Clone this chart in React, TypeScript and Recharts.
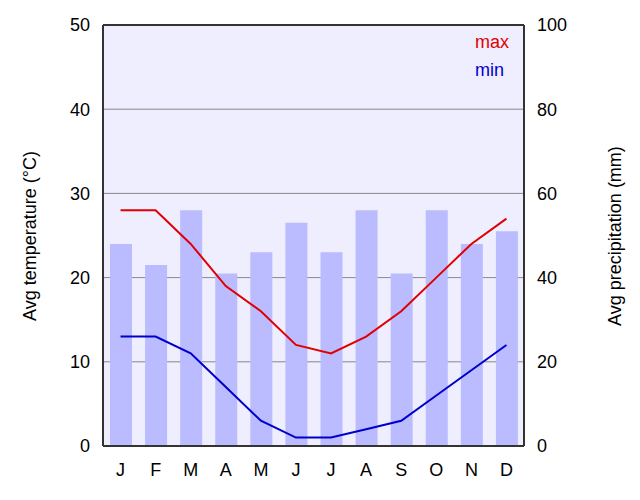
import { ComposedChart, Bar, Line, XAxis, YAxis, CartesianGrid, ReferenceLine } from 'recharts';

// Monthly climate values
const MONTHS = ['J', 'F', 'M', 'A', 'M', 'J', 'J', 'A', 'S', 'O', 'N', 'D'];
const TEMP_MAX = [28, 28, 24, 19, 16, 12, 11, 13, 16, 20, 24, 27];
const TEMP_MIN = [13, 13, 11, 7, 3, 1, 1, 2, 3, 6, 9, 12];
const PRECIP = [48, 43, 56, 41, 46, 53, 46, 56, 41, 56, 48, 51];
const TEMP_TICKS = [0, 10, 20, 30, 40, 50];
const PRECIP_TICKS = [0, 20, 40, 60, 80, 100];

const FONT = '"Liberation Sans", Arial, sans-serif';
const FRAME = '#333';
const MAX_COLOR = '#e00000';
const MIN_COLOR = '#0000cc';

const data = MONTHS.map((m, i) => ({
  month: m,
  max: TEMP_MAX[i],
  min: TEMP_MIN[i],
  precip: PRECIP[i],
}));

const tickStyle = { fill: '#000', fontSize: 18, fontFamily: FONT };

// rotated axis title at a fixed spot
function AxisTitle({ x, text }: { x: number; text: string }) {
  return (
    <text
      x={x}
      y={236}
      transform={`rotate(-90, ${x}, 236)`}
      textAnchor="middle"
      dominantBaseline="central"
      fontFamily={FONT}
      fontSize={18}
      fill="#000"
    >
      {text}
    </text>
  );
}

export default function App() {
  return (
    <div style={{ position: 'absolute', left: 0, top: 0, width: 640, height: 500 }}>
      <ComposedChart
        width={640}
        height={500}
        data={data}
        margin={{ top: 25, right: 56, bottom: 24, left: 0 }}
      >
        <CartesianGrid vertical={false} fill="#eeeeff" stroke="#888" yAxisId="temp" />
        <XAxis
          dataKey="month"
          tick={tickStyle}
          tickLine={false}
          tickMargin={11}
          height={30}
          axisLine={{ stroke: FRAME, strokeWidth: 2 }}
        />
        <YAxis
          yAxisId="temp"
          domain={[0, 50]}
          ticks={TEMP_TICKS}
          width={103}
          tick={tickStyle}
          tickLine={false}
          tickMargin={7}
          axisLine={{ stroke: FRAME, strokeWidth: 2 }}
          label={() => <AxisTitle x={30} text="Avg temperature (°C)" />}
        />
        <YAxis
          yAxisId="precip"
          orientation="right"
          domain={[0, 100]}
          ticks={PRECIP_TICKS}
          width={60}
          tick={{ ...tickStyle, textAnchor: 'start' }}
          tickLine={false}
          tickMargin={7}
          axisLine={{ stroke: FRAME, strokeWidth: 2 }}
          label={() => <AxisTitle x={615} text="Avg precipitation (mm)" />}
        />
        <Bar yAxisId="precip" dataKey="precip" fill="#bbbbff" barSize={22} isAnimationActive={false} />
        <Line yAxisId="temp" dataKey="max" stroke={MAX_COLOR} strokeWidth={2} dot={false} isAnimationActive={false} />
        <Line yAxisId="temp" dataKey="min" stroke={MIN_COLOR} strokeWidth={2} dot={false} isAnimationActive={false} />
        <ReferenceLine yAxisId="temp" y={50} stroke={FRAME} strokeWidth={2} />
      </ComposedChart>
      <div
        style={{
          position: 'absolute',
          left: 475,
          top: 28,
          fontFamily: FONT,
          fontSize: 18,
          lineHeight: '28px',
        }}
      >
        <div style={{ color: MAX_COLOR }}>max</div>
        <div style={{ color: MIN_COLOR }}>min</div>
      </div>
    </div>
  );
}
